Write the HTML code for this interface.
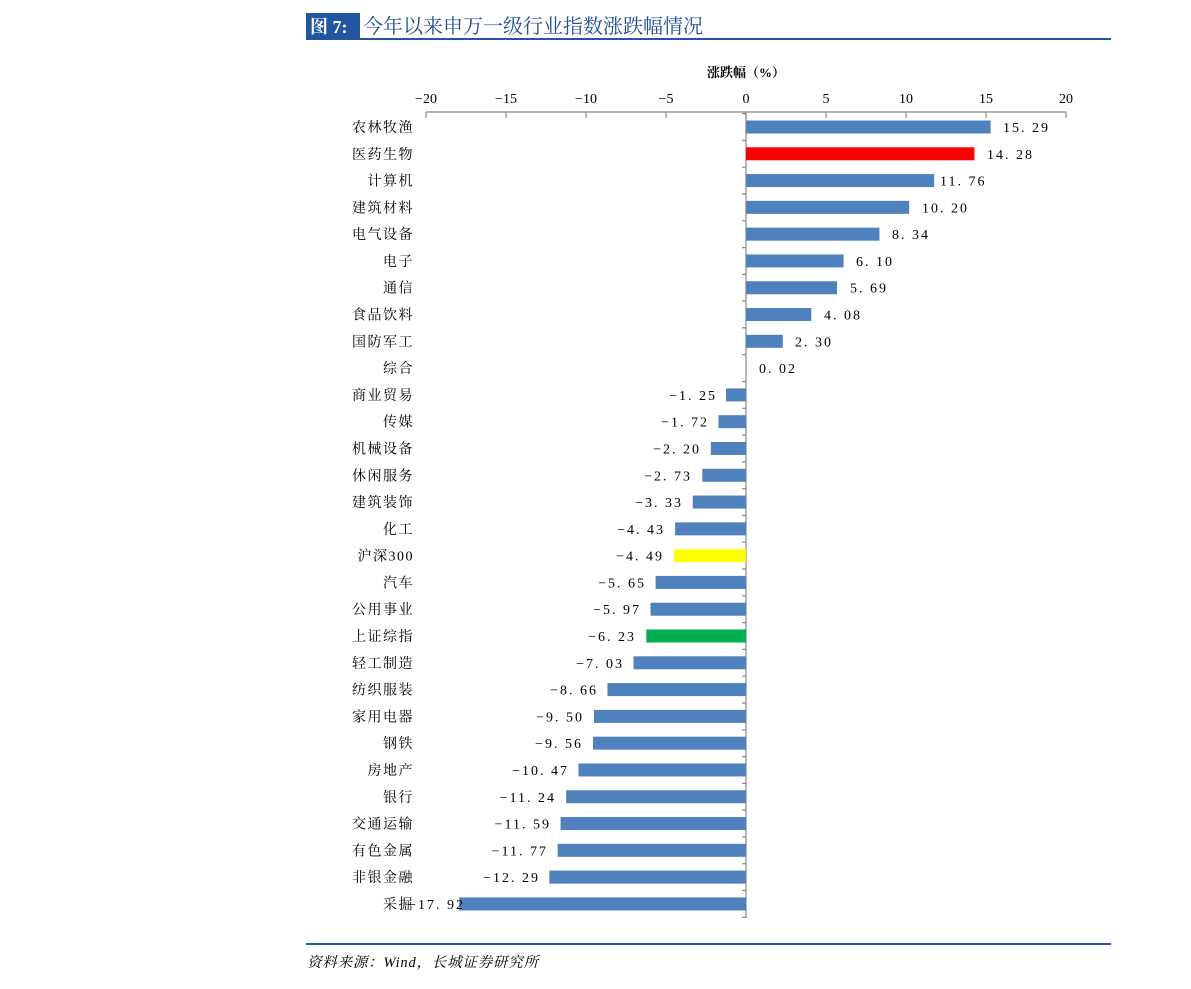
<!DOCTYPE html>
<html><head><meta charset="utf-8"><style>
html,body{margin:0;padding:0;background:#fff;}
svg{display:block;}
text{font-family:"Liberation Serif","Noto Serif CJK SC",serif;}
.c{font-size:14px;letter-spacing:1.5px;text-anchor:end;}
.p{font-size:14px;letter-spacing:2px;}
.n{font-size:14px;letter-spacing:2px;text-anchor:end;}
</style></head><body>
<svg width="1191" height="989" xmlns="http://www.w3.org/2000/svg">
<rect x="306" y="13" width="54" height="26" fill="#2356A0"/>
<text x="310" y="33" font-size="18" font-weight="bold" fill="#fff" font-family="Liberation Sans,Noto Sans CJK SC,sans-serif">图 7:</text>
<text x="363" y="33" font-size="20" fill="#1F4E9A" font-family="Liberation Sans,Noto Sans CJK SC,sans-serif">今年以来申万一级行业指数涨跌幅情况</text>
<rect x="306" y="38" width="805" height="2" fill="#2356A0"/>
<text x="746" y="77" font-size="13" text-anchor="middle" font-family="Liberation Sans,Noto Sans CJK SC,sans-serif" font-weight="bold">涨跌幅（%）</text>
<g font-size="14" text-anchor="middle" fill="#000">
<text x="426" y="103">−20</text><text x="506" y="103">−15</text><text x="586" y="103">−10</text><text x="666" y="103">−5</text><text x="746" y="103">0</text><text x="826" y="103">5</text><text x="906" y="103">10</text><text x="986" y="103">15</text><text x="1066" y="103">20</text>
</g>
<g stroke="#888" stroke-width="1.2" fill="none">
<path d="M426 112H1066"/>
<path d="M426 112v6M506 112v6M586 112v6M666 112v6M746 112v6M826 112v6M906 112v6M986 112v6M1066 112v6"/>
<path d="M746 112V918"/>
<path d="M742 113.6h4M742 140.4h4M742 167.2h4M742 194h4M742 220.8h4M742 247.6h4M742 274.4h4M742 301.1h4M742 327.9h4M742 354.7h4M742 381.5h4M742 408.3h4M742 435.1h4M742 461.9h4M742 488.7h4M742 515.5h4M742 542.2h4M742 569h4M742 595.8h4M742 622.6h4M742 649.4h4M742 676.2h4M742 703h4M742 729.8h4M742 756.6h4M742 783.4h4M742 810.1h4M742 836.9h4M742 863.7h4M742 890.5h4M742 917.3h4"/>
</g>
<g fill="#4F81BD">
<rect x="746" y="120.5" width="244.64" height="13"/>
<rect x="746" y="147.29" width="228.48" height="13" fill="#FF0000"/>
<rect x="746" y="174.08" width="188.16" height="13"/>
<rect x="746" y="200.87" width="163.2" height="13"/>
<rect x="746" y="227.66" width="133.44" height="13"/>
<rect x="746" y="254.45" width="97.6" height="13"/>
<rect x="746" y="281.24" width="91.04" height="13"/>
<rect x="746" y="308.03" width="65.28" height="13"/>
<rect x="746" y="334.82" width="36.8" height="13"/>
<rect x="746" y="361.61" width="1" height="13" fill="#9FB5D6"/>
<rect x="726" y="388.4" width="20" height="13"/>
<rect x="718.48" y="415.19" width="27.52" height="13"/>
<rect x="710.8" y="441.98" width="35.2" height="13"/>
<rect x="702.32" y="468.77" width="43.68" height="13"/>
<rect x="692.72" y="495.56" width="53.28" height="13"/>
<rect x="675.12" y="522.35" width="70.88" height="13"/>
<rect x="674.16" y="549.14" width="71.84" height="13" fill="#FFFF00"/>
<rect x="655.6" y="575.93" width="90.4" height="13"/>
<rect x="650.48" y="602.72" width="95.52" height="13"/>
<rect x="646.32" y="629.51" width="99.68" height="13" fill="#00B050"/>
<rect x="633.52" y="656.3" width="112.48" height="13"/>
<rect x="607.44" y="683.09" width="138.56" height="13"/>
<rect x="594" y="709.88" width="152" height="13"/>
<rect x="593.04" y="736.67" width="152.96" height="13"/>
<rect x="578.48" y="763.46" width="167.52" height="13"/>
<rect x="566.16" y="790.25" width="179.84" height="13"/>
<rect x="560.56" y="817.04" width="185.44" height="13"/>
<rect x="557.68" y="843.83" width="188.32" height="13"/>
<rect x="549.36" y="870.62" width="196.64" height="13"/>
<rect x="459.28" y="897.41" width="286.72" height="13"/>
</g>
<g>
<text class="c" x="414" y="132">农林牧渔</text>
<text class="c" x="414" y="158.8">医药生物</text>
<text class="c" x="414" y="185.6">计算机</text>
<text class="c" x="414" y="212.4">建筑材料</text>
<text class="c" x="414" y="239.2">电气设备</text>
<text class="c" x="414" y="266">电子</text>
<text class="c" x="414" y="292.7">通信</text>
<text class="c" x="414" y="319.5">食品饮料</text>
<text class="c" x="414" y="346.3">国防军工</text>
<text class="c" x="414" y="373.1">综合</text>
<text class="c" x="414" y="399.9">商业贸易</text>
<text class="c" x="414" y="426.7">传媒</text>
<text class="c" x="414" y="453.5">机械设备</text>
<text class="c" x="414" y="480.3">休闲服务</text>
<text class="c" x="414" y="507.1">建筑装饰</text>
<text class="c" x="414" y="533.9">化工</text>
<text class="c" x="414" y="560.6">沪深300</text>
<text class="c" x="414" y="587.4">汽车</text>
<text class="c" x="414" y="614.2">公用事业</text>
<text class="c" x="414" y="641">上证综指</text>
<text class="c" x="414" y="667.8">轻工制造</text>
<text class="c" x="414" y="694.6">纺织服装</text>
<text class="c" x="414" y="721.4">家用电器</text>
<text class="c" x="414" y="748.2">钢铁</text>
<text class="c" x="414" y="775">房地产</text>
<text class="c" x="414" y="801.8">银行</text>
<text class="c" x="414" y="828.5">交通运输</text>
<text class="c" x="414" y="855.3">有色金属</text>
<text class="c" x="414" y="882.1">非银金融</text>
<text class="c" x="414" y="908.9">采掘</text>
</g>
<g>
<text class="p" x="1003" y="132">15. 29</text>
<text class="p" x="987" y="158.8">14. 28</text>
<text class="p" x="940" y="185.6">11. 76</text>
<text class="p" x="922" y="212.4">10. 20</text>
<text class="p" x="892" y="239.2">8. 34</text>
<text class="p" x="856" y="266">6. 10</text>
<text class="p" x="850" y="292.7">5. 69</text>
<text class="p" x="824" y="319.5">4. 08</text>
<text class="p" x="795" y="346.3">2. 30</text>
<text class="p" x="759" y="373.1">0. 02</text>
<text class="n" x="717" y="399.9">−1. 25</text>
<text class="n" x="709" y="426.7">−1. 72</text>
<text class="n" x="701" y="453.5">−2. 20</text>
<text class="n" x="692" y="480.3">−2. 73</text>
<text class="n" x="683" y="507.1">−3. 33</text>
<text class="n" x="665" y="533.9">−4. 43</text>
<text class="n" x="664" y="560.6">−4. 49</text>
<text class="n" x="646" y="587.4">−5. 65</text>
<text class="n" x="641" y="614.2">−5. 97</text>
<text class="n" x="636" y="641">−6. 23</text>
<text class="n" x="624" y="667.8">−7. 03</text>
<text class="n" x="598" y="694.6">−8. 66</text>
<text class="n" x="584" y="721.4">−9. 50</text>
<text class="n" x="583" y="748.2">−9. 56</text>
<text class="n" x="569" y="775">−10. 47</text>
<text class="n" x="556" y="801.8">−11. 24</text>
<text class="n" x="551" y="828.5">−11. 59</text>
<text class="n" x="548" y="855.3">−11. 77</text>
<text class="n" x="540" y="882.1">−12. 29</text>
<text class="n" x="465" y="908.9">−17. 92</text>
</g>
<rect x="306" y="943" width="805" height="2" fill="#2356A0"/>
<text x="307" y="967" font-size="14.5" letter-spacing="0.8" font-style="italic">资料来源：Wind，长城证券研究所</text>
</svg>
</body></html>
